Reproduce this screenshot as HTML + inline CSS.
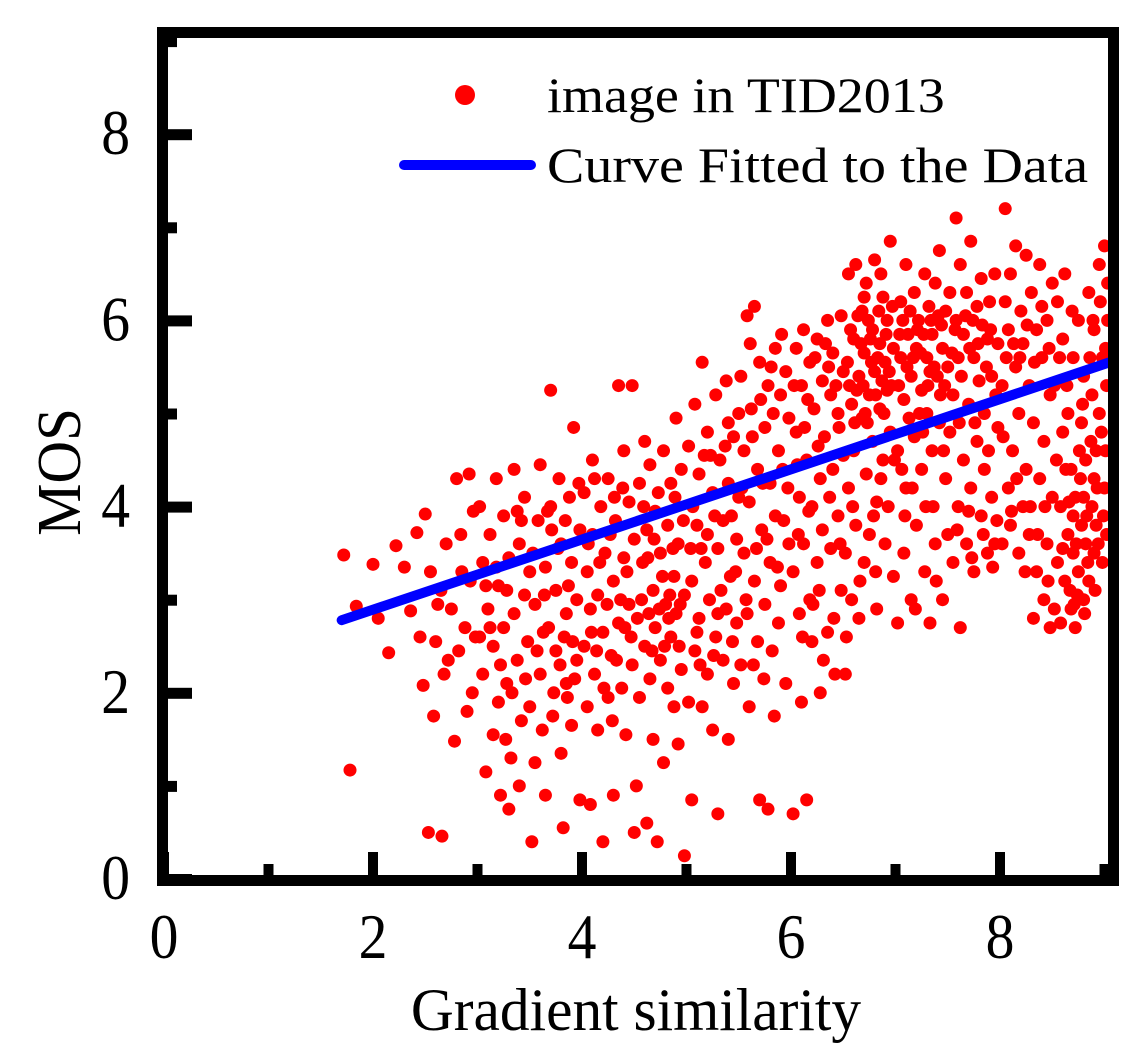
<!DOCTYPE html>
<html><head><meta charset="utf-8"><style>
html,body{margin:0;padding:0;background:#fff;}
svg{display:block;}
text{font-family:"Liberation Serif","Times New Roman",serif;fill:#000;}
</style></head><body>
<svg id="chart" width="1143" height="1053" viewBox="0 0 1143 1053" xmlns="http://www.w3.org/2000/svg">
<g id="points"></g>
<g id="fit"></g>
<g id="axes"></g>
<g id="legend">
  <circle cx="465" cy="95" r="10" fill="#ff0000"/>
  <text transform="translate(547,112) scale(1.08,1)" font-size="50">image in TID2013</text>
  <line x1="404" y1="165" x2="531" y2="165" stroke="#0000ff" stroke-width="10" stroke-linecap="round"/>
  <text transform="translate(547,182) scale(1.12,1)" font-size="50">Curve Fitted to the Data</text>
</g>
<text transform="translate(636,1030) scale(0.99,1)" text-anchor="middle" font-size="60">Gradient similarity</text>
<text transform="translate(80,472) rotate(-90) scale(0.95,1)" text-anchor="middle" font-size="62">MOS</text>
</svg>
<script>
const xTicks = [0, 2, 4, 6, 8];
const xMinorTicks = [1, 3, 5, 7, 9];
const yTicks = [0, 2, 4, 6, 8];
const yMinorTicks = [1, 3, 5, 7, 9];
const fitX = [1.7, 9.05];
const fitY = [2.78, 5.55];
const samples = [
[1.72,3.48],[1.78,1.17],[1.84,2.93],[2.0,3.38],[2.05,2.8],[2.15,2.43],[2.22,3.58],[2.3,3.35],[2.36,2.88],[2.42,3.72],[2.5,3.92],[2.48,2.08],[2.53,0.5],[2.58,1.75],[2.6,2.55],[2.66,0.46],[2.65,3.1],[2.72,2.35],[2.78,1.48],[2.8,4.3],[2.84,3.7],[2.88,2.7],[2.92,4.35],[2.95,2.0],[2.62,2.95],[2.7,3.6],[2.75,2.9],[2.85,3.3],[2.9,1.8],[2.96,3.95],[2.55,3.3],[2.45,2.6],[2.68,2.2],[2.82,2.45],[2.98,2.6],[2.93,3.2],
[3.02,4.0],[3.05,3.4],[3.05,2.2],[3.08,1.15],[3.1,2.9],[3.12,3.7],[3.15,2.5],[3.15,1.55],[3.18,4.3],[3.2,3.15],[3.2,1.9],[3.22,0.9],[3.25,2.7],[3.25,3.9],[3.28,2.1],[3.3,3.45],[3.3,0.75],[3.32,1.3],[3.35,2.85],[3.35,4.4],[3.38,2.35],[3.4,3.6],[3.4,1.0],[3.42,1.7],[3.45,3.05],[3.45,4.1],[3.48,2.55],[3.5,3.3],[3.5,1.85],[3.12,2.7],[3.28,3.1],[3.38,3.95],[3.02,2.6],[3.18,3.35],[3.33,2.0],[3.46,2.15],[3.22,2.3],[3.08,3.15],[3.42,3.85],[3.27,1.5],
[3.52,0.4],[3.55,1.25],[3.55,2.95],[3.58,3.85],[3.6,2.2],[3.6,4.45],[3.62,1.6],[3.65,3.35],[3.65,0.9],[3.68,2.7],[3.7,5.25],[3.7,4.0],[3.72,1.75],[3.75,2.45],[3.75,3.1],[3.78,4.3],[3.8,1.35],[3.8,3.6],[3.82,0.55],[3.85,2.1],[3.85,2.85],[3.88,4.1],[3.9,1.65],[3.9,3.4],[3.92,4.85],[3.95,2.35],[3.95,3.0],[3.98,0.85],[3.98,3.75],[3.57,2.45],[3.63,2.65],[3.67,3.95],[3.73,2.0],[3.77,3.55],[3.83,2.6],[3.87,3.15],[3.93,2.15],[3.97,4.25],[3.53,3.5],[3.71,3.75],[3.79,2.3],[3.86,1.95],[3.91,2.55],[3.64,3.05],[3.84,3.85],
[4.02,2.5],[4.02,4.15],[4.05,1.85],[4.05,3.3],[4.08,0.8],[4.08,2.9],[4.1,3.7],[4.1,4.5],[4.12,2.2],[4.15,1.6],[4.15,3.05],[4.18,4.0],[4.2,0.4],[4.2,2.65],[4.22,3.5],[4.25,1.95],[4.25,4.3],[4.28,2.4],[4.3,3.2],[4.3,0.9],[4.32,3.85],[4.35,2.75],[4.35,5.3],[4.38,2.05],[4.4,3.45],[4.4,4.6],[4.42,1.55],[4.45,2.95],[4.45,4.05],[4.48,2.3],[4.48,5.3],[4.5,3.65],[4.5,0.5],[4.06,3.6],[4.14,2.45],[4.24,2.95],[4.33,2.35],[4.43,3.3],[4.17,3.4],[4.27,3.7],[4.37,3.0],[4.47,2.6],[4.12,4.3],[4.29,1.7],[4.39,4.2],[4.21,2.05],[4.41,2.7],[4.09,2.65],[4.31,4.1],
[4.52,1.0],[4.53,2.8],[4.55,4.25],[4.55,1.95],[4.58,3.4],[4.6,4.7],[4.6,2.5],[4.62,0.6],[4.62,3.75],[4.65,2.15],[4.65,4.45],[4.68,3.1],[4.68,1.5],[4.7,2.7],[4.7,3.95],[4.72,0.4],[4.75,3.5],[4.75,2.35],[4.78,4.6],[4.78,1.25],[4.8,2.95],[4.82,3.8],[4.82,2.05],[4.85,4.25],[4.85,2.6],[4.88,3.25],[4.88,1.85],[4.9,4.95],[4.9,2.85],[4.92,3.6],[4.92,1.45],[4.95,4.4],[4.95,2.25],[4.98,3.05],[4.98,0.25],[4.57,3.0],[4.63,3.45],[4.67,2.45],[4.73,4.15],[4.77,3.25],[4.83,2.8],[4.87,3.55],[4.93,2.5],[4.97,3.85],[4.59,4.0],[4.69,3.65],[4.79,2.5],[4.89,4.1],[4.94,2.95],[4.84,3.05],[4.74,2.9],[4.64,2.85],
[5.02,1.9],[5.02,4.65],[5.05,3.2],[5.05,0.85],[5.08,2.45],[5.08,5.1],[5.1,3.8],[5.12,2.8],[5.12,4.35],[5.15,1.85],[5.15,5.55],[5.18,3.4],[5.2,2.2],[5.2,4.8],[5.22,3.0],[5.25,4.15],[5.25,1.6],[5.28,2.6],[5.28,5.2],[5.3,3.55],[5.3,0.7],[5.32,4.5],[5.35,2.35],[5.35,3.85],[5.38,2.9],[5.38,5.35],[5.4,4.25],[5.4,1.5],[5.42,3.25],[5.45,4.75],[5.45,2.1],[5.48,3.65],[5.48,2.75],[5.5,5.0],[5.5,4.1],[5.06,4.0],[5.14,3.55],[5.23,4.55],[5.33,3.1],[5.43,3.9],[5.1,2.65],[5.2,3.7],[5.3,2.85],[5.4,4.9],[5.04,3.55],[5.17,4.55],[5.27,3.9],[5.37,4.65],[5.47,3.3],[5.13,2.3],[5.26,2.4],[5.44,2.55],
[5.52,2.3],[5.52,5.4],[5.55,3.5],[5.55,4.6],[5.58,6.05],[5.58,2.85],[5.6,4.05],[5.6,1.85],[5.62,5.05],[5.65,3.2],[5.65,6.15],[5.68,4.4],[5.68,2.55],[5.7,5.55],[5.7,0.85],[5.72,3.75],[5.75,4.85],[5.75,2.95],[5.78,5.3],[5.78,0.75],[5.8,3.4],[5.8,4.25],[5.82,2.45],[5.85,5.7],[5.85,3.9],[5.88,4.6],[5.88,2.75],[5.9,5.2],[5.9,3.15],[5.92,4.4],[5.95,5.45],[5.95,2.1],[5.98,3.6],[5.98,4.95],[5.63,4.75],[5.73,4.25],[5.83,5.0],[5.93,3.85],[5.57,3.0],[5.67,3.55],[5.77,3.65],[5.87,3.35],[5.97,4.2],[5.61,5.75],[5.71,5.15],[5.81,5.5],[5.91,5.85],[5.53,4.2],[5.64,2.3],[5.74,2.15],[5.84,1.75],
[6.02,0.7],[6.02,3.3],[6.05,4.8],[6.05,5.7],[6.08,2.85],[6.08,4.1],[6.1,5.3],[6.1,1.9],[6.12,3.6],[6.12,5.9],[6.15,4.5],[6.15,0.85],[6.18,3.0],[6.18,5.55],[6.2,4.0],[6.2,2.55],[6.22,5.05],[6.25,3.4],[6.25,5.8],[6.28,4.3],[6.28,2.0],[6.3,5.35],[6.3,3.75],[6.32,4.75],[6.35,6.0],[6.35,2.65],[6.38,5.2],[6.38,3.55],[6.4,4.4],[6.4,5.65],[6.42,2.2],[6.45,3.9],[6.45,5.0],[6.48,6.05],[6.48,3.1],[6.5,5.45],[6.5,4.55],[6.06,4.45],[6.16,5.15],[6.26,4.65],[6.36,5.5],[6.46,4.85],[6.03,5.3],[6.13,4.85],[6.23,5.6],[6.33,5.75],[6.43,5.3],[6.07,3.7],[6.17,3.95],[6.27,3.1],[6.37,4.1],[6.47,3.6],[6.11,2.6],[6.21,2.95],[6.31,2.35],[6.41,2.8],
[6.52,2.2],[6.52,3.5],[6.55,4.2],[6.55,6.5],[6.58,5.1],[6.58,3.0],[6.6,5.8],[6.6,4.6],[6.62,6.6],[6.62,3.8],[6.65,5.4],[6.65,2.8],[6.68,4.95],[6.68,6.1],[6.7,3.4],[6.7,5.65],[6.72,4.35],[6.72,6.4],[6.75,5.2],[6.75,3.7],[6.78,5.9],[6.78,4.7],[6.8,6.65],[6.8,5.45],[6.82,4.05],[6.82,2.9],[6.85,5.75],[6.85,5.05],[6.88,6.25],[6.88,4.5],[6.9,5.55],[6.9,3.6],[6.92,6.0],[6.92,5.25],[6.95,6.85],[6.95,4.8],[6.98,5.7],[6.98,3.25],[6.54,5.55],[6.57,5.9],[6.63,5.25],[6.67,5.75],[6.71,5.0],[6.74,6.0],[6.77,5.55],[6.81,5.2],[6.84,6.1],[6.87,5.35],[6.91,5.85],[6.94,5.45],[6.97,6.15],[6.56,5.3],[6.64,6.05],[6.69,5.3],[6.76,5.8],[6.83,5.6],[6.89,5.0],[6.96,5.3],[6.61,4.9],[6.73,4.9],[6.86,4.3],[6.99,4.5],[6.59,4.0],[6.79,3.9],[6.93,4.0],[6.66,3.2],[6.81,3.3],[6.53,2.6],[6.7,6.25],[6.86,6.5],
[7.02,2.75],[7.02,4.6],[7.05,5.6],[7.05,6.2],[7.08,3.5],[7.08,5.15],[7.1,6.6],[7.1,4.2],[7.12,5.85],[7.15,3.0],[7.15,5.4],[7.18,6.3],[7.18,4.75],[7.2,5.7],[7.2,3.8],[7.22,6.0],[7.25,5.25],[7.25,4.4],[7.28,6.5],[7.28,3.3],[7.3,5.6],[7.3,5.0],[7.32,6.15],[7.35,4.6],[7.35,5.85],[7.38,3.6],[7.38,6.4],[7.4,5.4],[7.42,4.9],[7.42,6.75],[7.45,5.7],[7.45,3.0],[7.48,6.1],[7.48,4.3],[7.5,5.5],[7.5,3.7],[7.04,5.85],[7.07,6.0],[7.11,5.5],[7.14,6.1],[7.17,5.6],[7.21,5.9],[7.24,5.65],[7.27,5.85],[7.31,5.3],[7.34,6.0],[7.37,5.5],[7.41,6.05],[7.44,5.95],[7.47,5.3],[7.03,5.3],[7.13,4.95],[7.23,5.0],[7.33,5.45],[7.43,5.2],[7.06,4.4],[7.16,4.2],[7.26,4.8],[7.36,4.0],[7.46,4.6],[7.09,3.9],[7.29,4.0],[7.39,3.2],[7.19,2.9],[7.33,2.75],
[7.52,4.8],[7.52,6.3],[7.55,5.2],[7.55,3.4],[7.58,6.0],[7.58,7.1],[7.6,4.0],[7.6,5.6],[7.62,2.7],[7.62,6.6],[7.65,4.5],[7.65,5.85],[7.68,3.6],[7.68,6.3],[7.7,5.1],[7.72,6.85],[7.72,4.2],[7.75,5.6],[7.75,3.3],[7.78,6.15],[7.78,4.7],[7.8,5.35],[7.82,3.9],[7.82,6.45],[7.85,5.0],[7.85,4.4],[7.88,5.8],[7.88,3.5],[7.9,6.2],[7.92,4.1],[7.92,5.4],[7.95,3.6],[7.95,6.5],[7.98,4.85],[7.98,5.75],[7.54,5.65],[7.57,5.9],[7.63,5.4],[7.67,6.05],[7.71,5.7],[7.74,6.0],[7.79,5.75],[7.83,5.95],[7.87,5.5],[7.91,5.9],[7.96,5.2],[7.61,4.9],[7.76,4.9],[7.89,4.6],[7.7,3.95],[7.84,3.7],[7.97,3.85],[7.59,3.75],[7.73,3.45],[7.93,3.35],
[8.02,3.6],[8.02,5.3],[8.05,6.2],[8.05,7.2],[8.08,4.2],[8.08,5.9],[8.1,3.8],[8.1,6.5],[8.12,4.6],[8.15,5.5],[8.15,6.8],[8.18,3.5],[8.18,5.0],[8.2,6.1],[8.22,4.0],[8.22,5.75],[8.25,6.7],[8.25,4.4],[8.28,5.3],[8.28,3.7],[8.3,6.3],[8.32,4.9],[8.32,2.8],[8.35,5.9],[8.35,3.3],[8.38,4.3],[8.38,6.6],[8.4,5.6],[8.42,3.0],[8.42,4.7],[8.45,6.0],[8.45,3.6],[8.48,5.2],[8.48,2.7],[8.5,4.1],[8.5,6.4],[8.06,5.6],[8.13,5.75],[8.19,5.6],[8.26,5.95],[8.33,5.55],[8.4,6.15],[8.47,5.7],[8.03,4.75],[8.16,4.3],[8.29,4.0],[8.43,4.0],[8.11,3.95],[8.36,3.7],[8.24,3.3],[8.46,3.2],
[8.52,2.9],[8.52,5.3],[8.55,3.4],[8.55,6.2],[8.58,4.0],[8.58,2.75],[8.6,4.8],[8.6,5.8],[8.62,3.2],[8.62,6.5],[8.65,3.7],[8.65,5.0],[8.68,2.9],[8.68,4.4],[8.7,3.5],[8.7,5.6],[8.72,2.7],[8.72,4.1],[8.75,3.3],[8.75,6.0],[8.78,3.8],[8.78,4.9],[8.8,3.0],[8.8,5.4],[8.82,3.6],[8.82,4.5],[8.85,3.2],[8.85,6.3],[8.88,4.0],[8.88,5.2],[8.9,3.5],[8.9,5.9],[8.92,4.6],[8.92,3.8],[8.95,6.6],[8.95,5.0],[8.98,3.4],[8.98,5.6],[9.0,4.2],[9.0,6.8],[9.02,3.7],[9.02,5.3],[9.03,6.0],[8.57,5.6],[8.63,4.4],[8.67,3.1],[8.73,3.6],[8.77,4.3],[8.83,3.9],[8.87,4.7],[8.93,4.2],[8.97,4.8],[9.01,5.7],[8.6,3.55],[8.7,3.9],[8.8,4.1],[8.9,4.3],[8.74,3.05],[8.84,3.4],[8.94,3.6],[8.99,3.9],[8.66,4.05],[8.76,4.6],[8.86,5.6],[8.96,6.2],[9.03,6.4],[8.54,4.5],[8.64,5.3],[8.79,5.1],[8.69,6.1],[8.89,6.0],[9.01,4.6],[8.91,3.1],[8.81,2.85],[8.71,2.95]
];

const NS = 'http://www.w3.org/2000/svg';
const X0 = 164, XS = 104.5, Y0 = 879, YS = 93.1;
function xScale(v){ return X0 + v * XS; }
function yScale(v){ return Y0 - v * YS; }
function mk(tag, attrs, parent){
  const el = document.createElementNS(NS, tag);
  for (const k in attrs) el.setAttribute(k, attrs[k]);
  parent.appendChild(el);
  return el;
}

const pg = document.getElementById('points');
samples.forEach(function(p){
  const c = mk('circle', {cx: xScale(p[0]), cy: yScale(p[1]), r: 6.5, fill: '#ff0000'}, pg);
  
  
});

const fg = document.getElementById('fit');
const pts = fitX.map(function(x, i){ return xScale(x) + ',' + yScale(fitY[i]); }).join(' ');
const fl = mk('polyline', {points: pts, fill: 'none', stroke: '#0000ff', 'stroke-width': 10, 'stroke-linecap': 'round'}, fg);



const ag = document.getElementById('axes');
const fr = mk('rect', {x: 162.5, y: 32.5, width: 951, height: 848, fill: 'none', stroke: '#000', 'stroke-width': 11}, ag);



xTicks.forEach(function(v){
  const t = mk('rect', {x: xScale(v) - 5, y: 852, width: 10, height: 24, fill: '#000'}, ag);
  
  
  const l = mk('text', {transform: 'translate(' + xScale(v) + ',958) scale(0.9,1)', 'text-anchor': 'middle', 'font-size': 64}, ag);
  l.textContent = String(v);
  
  
});
xMinorTicks.forEach(function(v){
  const t = mk('rect', {x: xScale(v) - 5, y: 864, width: 10, height: 12, fill: '#000'}, ag);
  
  
});
yTicks.forEach(function(v){
  const t = mk('rect', {x: 165, y: yScale(v) - 5, width: 27, height: 11, fill: '#000'}, ag);
  
  
  const l = mk('text', {transform: 'translate(130,' + (yScale(v) + 20) + ') scale(0.9,1)', 'text-anchor': 'end', 'font-size': 64}, ag);
  l.textContent = String(v);
  
  
});
yMinorTicks.forEach(function(v){
  const t = mk('rect', {x: 165, y: yScale(v) - 5, width: 12, height: 11, fill: '#000'}, ag);
  
  
});
</script>
</body></html>
